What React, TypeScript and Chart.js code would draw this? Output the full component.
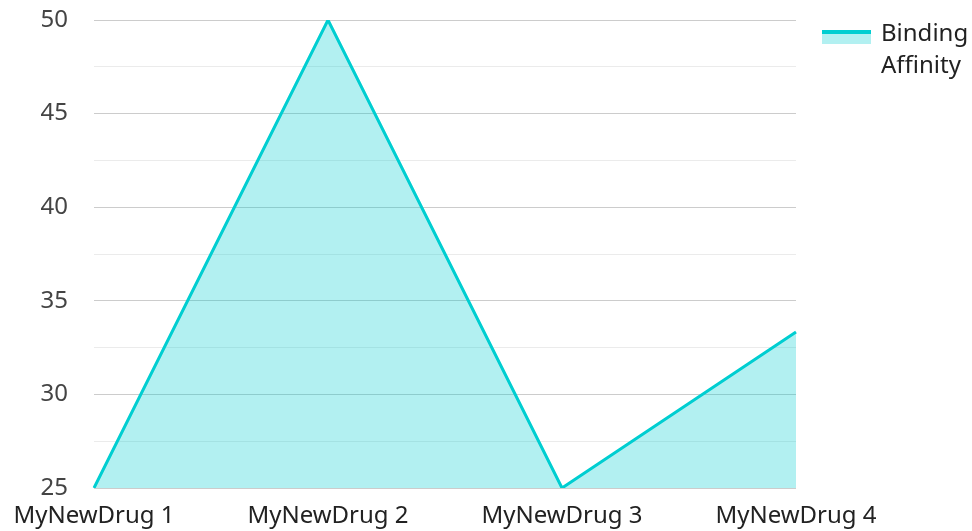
import React, { useEffect, useRef } from "react";
import { Chart, registerables } from "chart.js";

Chart.register(...registerables);

const categories = ["MyNewDrug 1", "MyNewDrug 2", "MyNewDrug 3", "MyNewDrug 4"];
const seriesName = "Binding Affinity";
const bindingAffinity = [25, 50, 25, 33.33];
const legendLines = ["Binding", "Affinity"];

const LINE = "#00CED1";
const FILL = "rgba(0,206,209,0.3)";
const FONT = "'Noto Sans', 'Open Sans', sans-serif";

const legendPlugin = {
  id: "customLegend",
  afterDraw(chart: any) {
    const ctx = chart.ctx;
    const x0 = chart.chartArea.right + 26;
    ctx.save();
    ctx.fillStyle = FILL;
    ctx.fillRect(x0, 33, 49, 11);
    ctx.fillStyle = LINE;
    ctx.fillRect(x0, 30, 49, 4);
    ctx.fillStyle = "#222222";
    ctx.font = `24px ${FONT}`;
    ctx.textBaseline = "middle";
    ctx.textAlign = "left";
    legendLines.forEach((t, i) => ctx.fillText(t, x0 + 59, 34 + i * 32));
    ctx.restore();
  },
};

export default function App() {
  const ref = useRef<HTMLCanvasElement>(null);
  useEffect(() => {
    document.body.style.margin = "0";
    const chart = new Chart(ref.current!, {
      type: "line",
      data: {
        labels: categories,
        datasets: [
          {
            label: seriesName,
            data: bindingAffinity,
            borderColor: LINE,
            backgroundColor: FILL,
            borderWidth: 3,
            fill: "start",
            pointRadius: 0,
            tension: 0,
          },
        ],
      },
      options: {
        animation: false,
        responsive: false,
        maintainAspectRatio: false,
        layout: { padding: { top: 20, right: 176, left: 0, bottom: 0 } },
        plugins: { legend: { display: false }, tooltip: { enabled: false } },
        scales: {
          x: {
            offset: false,
            grid: { display: false, drawTicks: false },
            border: { display: false },
            ticks: { color: "#222222", font: { family: FONT, size: 24 }, padding: 14, maxRotation: 0, autoSkip: false },
            afterFit: (s: any) => { s.height = 43; s.paddingLeft = 0; s.paddingRight = 0; },
          },
          y: {
            min: 25,
            max: 50,
            grid: {
              drawTicks: false,
              color: (c: any) => (Math.abs((c.tick?.value ?? 0) % 5) < 1e-6 ? "#cccccc" : "#ebebeb"),
              lineWidth: 1,
            },
            border: { display: false },
            ticks: {
              stepSize: 2.5,
              padding: 26,
              color: "#444444",
              font: { family: FONT, size: 24 },
              autoSkip: false,
              callback: (v: any) => (Math.abs(Number(v) % 5) < 1e-6 ? String(v) : ""),
            },
            afterFit: (s: any) => { s.width = 94; s.paddingTop = 0; s.paddingBottom = 0; },
          },
        },
      },
      plugins: [legendPlugin],
    });
    return () => chart.destroy();
  }, []);
  return (
    <div style={{ width: 972, height: 531 }}>
      <canvas ref={ref} width={972} height={531} style={{ display: "block" }} />
    </div>
  );
}
